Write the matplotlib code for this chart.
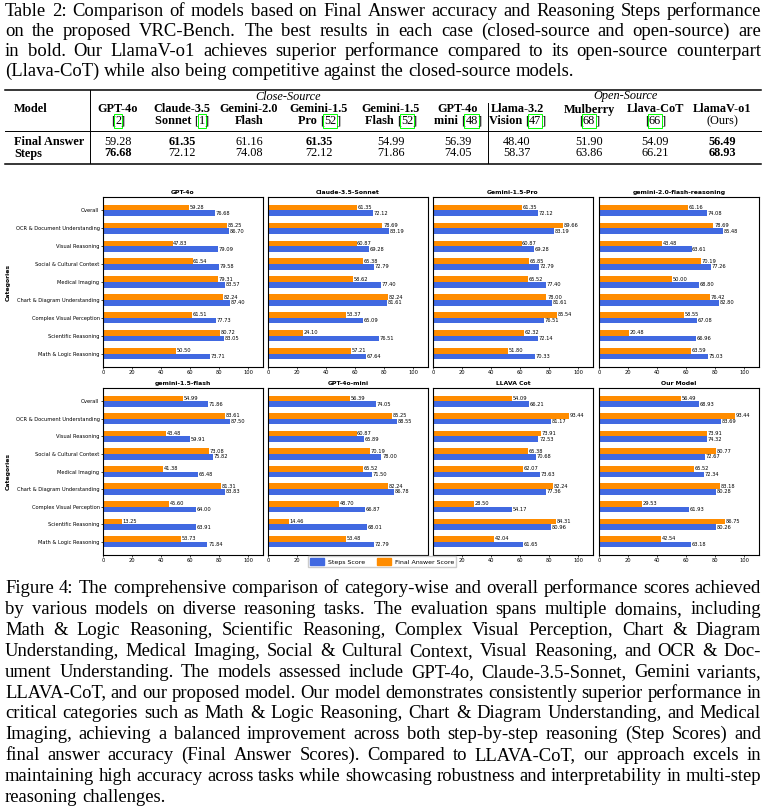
import matplotlib
matplotlib.use('Agg')
import numpy as np
import matplotlib.pyplot as plt
from matplotlib.patches import Patch

W, H = 766, 810
SERIF = 'Liberation Serif'
BLUE = '#4169E1'
ORANGE = '#FF8C00'
CAP = 13.4

# ---- caption text (line breaks as in the page) ----
table_caption = [
    'Table 2: Comparison of models based on Final Answer accuracy and Reasoning Steps performance',
    'on the proposed VRC-Bench.  The best results in each case (closed-source and open-source) are',
    'in bold.  Our LlamaV-o1 achieves superior performance compared to its open-source counterpart',
    '(Llava-CoT) while also being competitive against the closed-source models.',
]
figure_caption = [
    'Figure 4: The comprehensive comparison of category-wise and overall performance scores achieved',
    'by various models on diverse reasoning tasks.  The evaluation spans multiple domains, including',
    'Math & Logic Reasoning, Scientific Reasoning, Complex Visual Perception, Chart & Diagram',
    'Understanding, Medical Imaging, Social & Cultural Context, Visual Reasoning, and OCR & Doc-',
    'ument Understanding. The models assessed include GPT-4o, Claude-3.5-Sonnet, Gemini variants,',
    'LLAVA-CoT, and our proposed model. Our model demonstrates consistently superior performance in',
    'critical categories such as Math & Logic Reasoning, Chart & Diagram Understanding, and Medical',
    'Imaging, achieving a balanced improvement across both step-by-step reasoning (Step Scores) and',
    'final answer accuracy (Final Answer Scores).  Compared to LLAVA-CoT, our approach excels in',
    'maintaining high accuracy across tasks while showcasing robustness and interpretability in multi-step',
    'reasoning challenges.',
]

# ---- table data ----
tab_top = ['GPT-4o', 'Claude-3.5', 'Gemini-2.0', 'Gemini-1.5', 'Gemini-1.5', 'GPT-4o',
           'Llama-3.2', 'Mulberry', 'Llava-CoT', 'LlamaV-o1']
tab_word = ['', 'Sonnet', 'Flash', 'Pro', 'Flash', 'mini', 'Vision', '', '', '(Ours)']
tab_cite = ['2', '1', '', '52', '52', '48', '47', '68', '66', '']
tab_final = [59.28, 61.35, 61.16, 61.35, 54.99, 56.39, 48.40, 51.90, 54.09, 56.49]
tab_steps = [76.68, 72.12, 74.08, 72.12, 71.86, 74.05, 58.37, 63.86, 66.21, 68.93]
bold_final = [1, 3, 9]
bold_steps = [0, 9]

# ---- chart data ----
categories = ['Overall', 'OCR & Document Understanding', 'Visual Reasoning',
              'Social & Cultural Context', 'Medical Imaging',
              'Chart & Diagram Understanding', 'Complex Visual Perception',
              'Scientific Reasoning', 'Math & Logic Reasoning']
panel_titles = ['GPT-4o', 'Claude-3.5-Sonnet', 'Gemini-1.5-Pro', 'gemini-2.0-flash-reasoning',
                'gemini-1.5-flash', 'GPT-4o-mini', 'LLAVA Cot', 'Our Model']

final_gpt4o = [59.28, 85.25, 47.83, 61.54, 79.31, 82.24, 61.51, 80.72, 50.50]
steps_gpt4o = [76.68, 86.70, 79.09, 79.58, 83.57, 87.40, 77.73, 83.05, 73.71]
final_claude = [61.35, 78.69, 60.87, 65.38, 58.62, 82.24, 53.37, 24.10, 57.21]
steps_claude = [72.12, 83.19, 69.28, 72.79, 77.40, 81.61, 65.09, 76.51, 67.64]
final_gem15pro = [61.35, 89.66, 60.87, 65.85, 65.52, 78.00, 85.54, 62.32, 51.80]
steps_gem15pro = [72.12, 83.19, 69.28, 72.79, 77.40, 81.61, 76.51, 72.14, 70.33]
final_gem20 = [61.16, 78.69, 43.48, 70.19, 50.00, 76.42, 58.55, 20.48, 63.59]
steps_gem20 = [74.08, 85.48, 63.61, 77.26, 68.80, 82.80, 67.08, 66.96, 75.03]
final_gem15flash = [54.99, 83.61, 43.48, 73.08, 41.38, 81.31, 45.60, 13.25, 53.73]
steps_gem15flash = [71.86, 87.50, 59.91, 75.82, 65.48, 83.83, 64.00, 63.91, 71.84]
final_gpt4omini = [56.39, 85.25, 60.87, 70.19, 65.52, 82.24, 48.70, 14.46, 53.48]
steps_gpt4omini = [74.05, 88.55, 65.89, 78.00, 71.50, 86.78, 66.87, 68.01, 72.79]
final_llava = [54.09, 93.44, 73.91, 65.38, 62.07, 82.24, 28.50, 84.31, 42.04]
steps_llava = [66.21, 81.17, 72.53, 70.68, 73.63, 77.36, 54.17, 80.96, 61.65]
final_ours = [56.49, 93.44, 73.91, 80.77, 65.52, 83.18, 29.53, 86.75, 42.54]
steps_ours = [68.93, 83.69, 74.32, 72.67, 72.34, 80.28, 61.93, 80.26, 63.18]

finals = [final_gpt4o, final_claude, final_gem15pro, final_gem20,
          final_gem15flash, final_gpt4omini, final_llava, final_ours]
steps = [steps_gpt4o, steps_claude, steps_gem15pro, steps_gem20,
         steps_gem15flash, steps_gpt4omini, steps_llava, steps_ours]


fig = plt.figure(figsize=(W / 100, H / 100), dpi=100)
bg = fig.add_axes([0, 0, 1, 1])
bg.set_xlim(0, W)
bg.set_ylim(H, 0)
bg.axis('off')
rend = fig.canvas.get_renderer()


def text_w(s, **kw):
    t = bg.text(0, 0, s, **kw)
    w = t.get_window_extent(renderer=rend).width
    t.remove()
    return w


def put_line(line, y, x0, x1, size, justify=True):
    words = line.split()
    kw = dict(fontsize=size, family=SERIF)
    widths = [text_w(w, **kw) for w in words]
    space = text_w('a a', **kw) - text_w('aa', **kw)
    gap = space
    if justify and len(words) > 1:
        gap = (x1 - x0 - sum(widths)) / (len(words) - 1)
    x = x0
    for w, wd in zip(words, widths):
        bg.text(x, y, w, ha='left', va='baseline', **kw)
        x += wd + gap


def put_pieces(pieces, xc, y, size):
    # pieces: (text, weight, boxed)
    ws = [text_w(p[0], fontsize=size, family=SERIF, fontweight=p[1]) for p in pieces]
    x = xc - sum(ws) / 2
    for (s, wt, boxed), wd in zip(pieces, ws):
        kw = {}
        if boxed:
            kw['bbox'] = dict(boxstyle='square,pad=0.08', fc='none', ec='#00ff00', lw=0.7)
        bg.text(x, y, s, ha='left', va='center', fontsize=size, family=SERIF,
                fontweight=wt, **kw)
        x += wd


# ---- table caption ----
for i, line in enumerate(table_caption):
    put_line(line, 15.5 + 20.2 * i, 5, 761, CAP, justify=(i < len(table_caption) - 1))

# ---- table ----
TS = 8.8
col_x = [118, 182, 249, 319, 391, 458, 517, 589, 655, 722]
bg.plot([5, 761], [89.5, 89.5], color='black', lw=1.1)
bg.plot([5, 761], [130.5, 130.5], color='black', lw=0.7)
bg.plot([5, 761], [163.5, 163.5], color='black', lw=1.1)
bg.plot([90, 90], [90, 163], color='black', lw=0.7)
bg.plot([488, 488], [103, 163], color='black', lw=0.7)
bg.text(288, 96.5, 'Close-Source', ha='center', va='center', fontsize=TS,
        family=SERIF, style='italic')
bg.text(626, 96.5, 'Open-Source', ha='center', va='center', fontsize=TS,
        family=SERIF, style='italic')
bg.text(14, 109.5, 'Model', ha='left', va='center', fontsize=TS, family=SERIF,
        fontweight='bold')
for j, x in enumerate(col_x):
    bg.text(x, 109.5, tab_top[j], ha='center', va='center', fontsize=TS,
            family=SERIF, fontweight='bold')
    pieces = []
    if tab_word[j]:
        wt = 'normal' if tab_word[j].startswith('(') else 'bold'
        pieces.append((tab_word[j] + (' ' if tab_cite[j] else ''), wt, False))
    if tab_cite[j]:
        pieces += [('[', 'normal', False), (tab_cite[j], 'normal', True),
                   (']', 'normal', False)]
    put_pieces(pieces, x, 121, TS)

bg.text(14, 142, 'Final Answer', ha='left', va='center', fontsize=TS, family=SERIF,
        fontweight='bold')
bg.text(14, 153.5, 'Steps', ha='left', va='center', fontsize=TS, family=SERIF,
        fontweight='bold')
for j, x in enumerate(col_x):
    bg.text(x, 142, f'{tab_final[j]:.2f}', ha='center', va='center', fontsize=TS,
            family=SERIF, fontweight='bold' if j in bold_final else 'normal')
    bg.text(x, 153.5, f'{tab_steps[j]:.2f}', ha='center', va='center', fontsize=TS,
            family=SERIF, fontweight='bold' if j in bold_steps else 'normal')

# ---- chart grid ----
col_left = [103, 268, 433, 599]
col_w = 160
row_top = [197, 388]
row_h = [170, 167]
FS = 3.7
y = np.arange(len(categories))
bh = 0.32
# ticks of the bottom row that sit under the legend box
hidden_ticks = {5: [40, 60, 80, 100], 6: [0]}
for i, title in enumerate(panel_titles):
    r, c = divmod(i, 4)
    ax = fig.add_axes([col_left[c] / W, 1 - (row_top[r] + row_h[r]) / H,
                       col_w / W, row_h[r] / H])
    ax.barh(y - bh / 2, finals[i], height=bh, color=ORANGE)
    ax.barh(y + bh / 2, steps[i], height=bh, color=BLUE)
    for yy, v in zip(y, finals[i]):
        ax.text(v + 0.4, yy - bh / 2, f'{v:.2f}', ha='left', va='center', fontsize=FS)
    for yy, v in zip(y, steps[i]):
        ax.text(v + 0.4, yy + bh / 2, f'{v:.2f}', ha='left', va='center', fontsize=FS)
    ax.invert_yaxis()
    ax.set_xlim(0, 110)
    ticks = list(range(0, 101, 20))
    ax.set_xticks(ticks)
    ax.set_xticklabels(['' if t in hidden_ticks.get(i, []) else str(t) for t in ticks])
    ax.tick_params(axis='both', labelsize=FS, length=1.5, width=0.5, pad=1)
    ax.set_title(title, fontsize=4.4, fontweight='bold', pad=2.5)
    for sp in ax.spines.values():
        sp.set_linewidth(0.8)
    if c == 0:
        ax.set_yticks(y)
        ax.set_yticklabels(categories)
        ax.set_ylabel('Categories', fontsize=4.4, fontweight='bold')
        ax.yaxis.set_label_coords(-0.575, 0.5)
    else:
        ax.set_yticks([])

fig.legend(handles=[Patch(color=BLUE, label='Steps Score'),
                    Patch(color=ORANGE, label='Final Answer Score')],
           loc='center', bbox_to_anchor=(382 / W, 1 - 561.5 / H), ncol=2,
           fontsize=4.5, handlelength=2.3, handleheight=1.2, handletextpad=0.6,
           columnspacing=1.9, borderpad=0.35, fancybox=False, edgecolor='#cccccc',
           framealpha=1)

# ---- figure caption ----
for i, line in enumerate(figure_caption):
    put_line(line, 593 + 20.9 * i, 5, 761, CAP, justify=(i < len(figure_caption) - 1))

fig.savefig('out.png', dpi=100)
